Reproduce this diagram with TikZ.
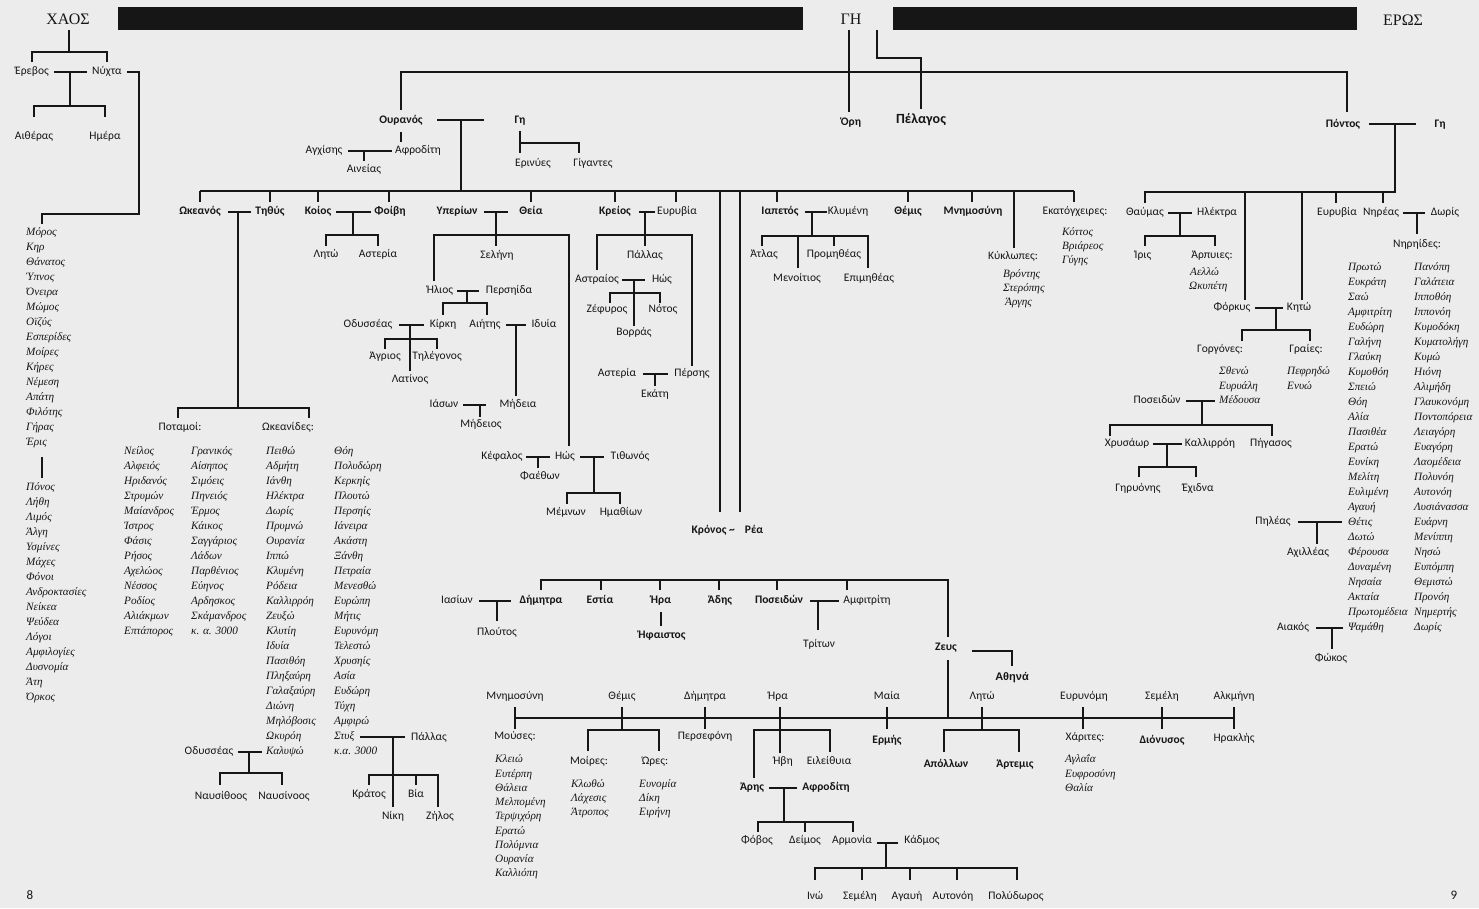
\documentclass[tikz,border=0pt]{standalone}
\usepackage{fontspec}
\setmainfont{Liberation Serif}
\setsansfont{Carlito}
\newfontfamily\arialfont{Liberation Sans}
\definecolor{bg}{RGB}{236,236,236}
\definecolor{ink}{RGB}{22,22,22}
\tikzset{
  nm/.style={font=\sffamily\fontsize{11.5}{13}\selectfont,inner sep=0pt,text height=7.5pt,text depth=2pt,text=ink},
  bd/.style={nm,font=\sffamily\bfseries\fontsize{11.5}{13}\selectfont},
  itl/.style={font=\itshape\fontsize{11.2}{13}\selectfont,inner sep=0pt,text height=7.5pt,text depth=2pt,text=ink,anchor=west},
  hd/.style={font=\fontsize{16}{18}\selectfont,inner sep=0pt,text=ink},
  ln/.style={line width=1.35pt,draw=ink},
  tk/.style={line width=2.4pt,draw=ink},
}
\begin{document}
\begin{tikzpicture}[x=1pt,y=-1pt]
\fill[bg] (0,0) rectangle (1479,908);
\useasboundingbox (0,0) rectangle (1479,908);

% ---------- header ----------
\node[hd] (chaos) at (68,19) {ΧΑΟΣ};
\fill[ink] (118,7) rectangle (803,30);
\node[hd] (ge) at (851,19) {ΓΗ};
\fill[ink] (893,7) rectangle (1357,30);
\node[hd] (eros) at (1403,20) {ΕΡΩΣ};

% ---------- Chaos ----------
\draw[ln] (69,30) -- (69,52);
\draw[ln] (32,62) -- (32,52) -- (107,52) -- (107,62);
\node[nm] (erebos) at (32,72) {Έρεβος};
\node[nm] (nyx) at (107,72) {Νύχτα};
\draw[ln] (54,72) -- (87,72);
\draw[ln] (70,72) -- (70,106);
\draw[ln] (34,117) -- (34,106) -- (105,106) -- (105,117);
\node[nm] (aither) at (34,137) {Αιθέρας};
\node[nm] (hemera) at (105,137) {Ημέρα};
\draw[ln] (127,72) -- (139,72) -- (139,214) -- (42,214) -- (42,224);
\foreach \t [count=\i from 0] in {Μόρος,Κηρ,Θάνατος,Ύπνος,Όνειρα,Μώμος,Οϊζύς,Εσπερίδες,Μοίρες,Κήρες,Νέμεση,Απάτη,Φιλότης,Γήρας,Έρις}
  \node[itl] (nya\i) at (26,{233+15*\i}) {\t};
\draw[tk] (42,457) -- (42,478);
\foreach \t [count=\i from 0] in {Πόνος,Λήθη,Λιμός,Άλγη,Υσμίνες,Μάχες,Φόνοι,Ανδροκτασίες,Νείκεα,Ψεύδεα,Λόγοι,Αμφιλογίες,Δυσνομία,Άτη,Όρκος}
  \node[itl] (nyb\i) at (26,{488+15*\i}) {\t};

% ---------- Ge ----------
\draw[ln] (849,30) -- (849,112);
\draw[ln] (401,110) -- (401,72) -- (1347,72) -- (1347,112);
\draw[ln] (877,30) -- (877,58) -- (921,58) -- (921,109);
\node[bd] (ore) at (851,123) {Όρη};
\node[bd,font=\sffamily\bfseries\fontsize{14}{16}\selectfont] (pelagos) at (921,121) {Πέλαγος};

% Ouranos
\node[bd] (ouranos) at (401,121) {Ουρανός};
\node[bd] (ge2) at (520,121) {Γη};
\draw[ln] (437,120) -- (484,120);
\draw[ln] (461,120) -- (461,191);
\draw[ln] (401,132) -- (401,142);
\node[nm] (aphr1) at (418,151) {Αφροδίτη};
\node[nm] (anch) at (324,151) {Αγχίσης};
\draw[ln] (348,151) -- (392,151);
\draw[ln] (364,151) -- (364,161);
\node[nm] (aineias) at (364,170) {Αινείας};
\draw[ln] (520,131) -- (520,153);
\draw[ln] (520,143) -- (579,143) -- (579,153);
\node[nm] (erinyes) at (533,164) {Ερινύες};
\node[nm] (gigantes) at (593,164) {Γίγαντες};

% Titans line
\draw[ln] (200,191) -- (1074,191);
\foreach \x in {200,270,318,389,531,615,676,777,908,972,1074}
  \draw[ln] (\x,191) -- (\x,202);
\draw[ln] (720,191) -- (720,512);
\draw[ln] (740,191) -- (740,512);
\draw[ln] (1014,191) -- (1014,248);

\node[bd] (okeanos) at (200,212) {Ωκεανός};
\node[bd] (tethys) at (270,212) {Τηθύς};
\node[bd] (koios) at (318,212) {Κοίος};
\node[bd] (phoibe) at (390,212) {Φοίβη};
\node[bd] (hyperion) at (457,212) {Υπερίων};
\node[bd] (theia) at (531,212) {Θεία};
\node[bd] (kreios) at (615,212) {Κρείος};
\node[nm] (eurybia) at (677,212) {Ευρυβία};
\node[bd] (iapetos) at (780,212) {Ιαπετός};
\node[nm] (klymene) at (848,212) {Κλυμένη};
\node[bd] (themis) at (908,212) {Θέμις};
\node[bd] (mnemos) at (973,212) {Μνημοσύνη};
\node[nm] (hekat) at (1075,212) {Εκατόγχειρες:};

% Okeanos - Tethys
\draw[ln] (228,212) -- (251,212);
\draw[ln] (238,212) -- (238,408);
\draw[ln] (178,418) -- (178,408) -- (309,408) -- (309,418);
\node[nm] (potamoi) at (180,428) {Ποταμοί:};
\node[nm] (okeanides) at (288,428) {Ωκεανίδες:};
\foreach \t [count=\i from 0] in {Νείλος,Αλφειός,Ηριδανός,Στρυμών,Μαίανδρος,Ίστρος,Φάσις,Ρήσος,Αχελώος,Νέσσος,Ροδίος,Αλιάκμων,Επτάπορος}
  \node[itl] (pa\i) at (124,{452+15*\i}) {\t};
\foreach \t [count=\i from 0] in {Γρανικός,Αίσηπος,Σιμόεις,Πηνειός,Έρμος,Κάικος,Σαγγάριος,Λάδων,Παρθένιος,Εύηνος,Αρδησκος,Σκάμανδρος,κ. α. 3000}
  \node[itl] (pb\i) at (191,{452+15*\i}) {\t};
\foreach \t [count=\i from 0] in {Πειθώ,Αδμήτη,Ιάνθη,Ηλέκτρα,Δωρίς,Πρυμνώ,Ουρανία,Ιππώ,Κλυμένη,Ρόδεια,Καλλιρρόη,Ζευξώ,Κλυτίη,Ιδυία,Πασιθόη,Πληξαύρη,Γαλαξαύρη,Διώνη,Μηλόβοσις,Ωκυρόη,Καλυψώ}
  \node[itl] (oa\i) at (266,{452+15*\i}) {\t};
\foreach \t [count=\i from 0] in {Θόη,Πολυδώρη,Κερκηίς,Πλουτώ,Περσηίς,Ιάνειρα,Ακάστη,Ξάνθη,Πετραία,Μενεσθώ,Ευρώπη,Μήτις,Ευρυνόμη,Τελεστώ,Χρυσηίς,Ασία,Ευδώρη,Τύχη,Αμφιρώ,Στυξ,κ.α. 3000}
  \node[itl] (ob\i) at (334,{452+15*\i}) {\t};

% Styx - Pallas
\draw[ln] (360,737) -- (405,737);
\node[nm] (pallas2) at (429,738) {Πάλλας};
\draw[ln] (393,737) -- (393,807);
\draw[ln] (369,785) -- (369,775) -- (438,775) -- (438,807);
\draw[ln] (416,775) -- (416,785);
\node[nm] (kratos) at (369,795) {Κράτος};
\node[nm] (bia) at (416,795) {Βία};
\node[nm] (nike) at (393,817) {Νίκη};
\node[nm] (zelos) at (440,817) {Ζήλος};

% Odysseus - Kalypso
\node[nm] (odyss2) at (209,752) {Οδυσσέας};
\draw[ln] (238,752) -- (262,752);
\draw[ln] (249,752) -- (249,773);
\draw[ln] (220,785) -- (220,773) -- (282,773) -- (282,785);
\node[nm] (nausith) at (221,797) {Ναυσίθοος};
\node[nm] (nausin) at (284,797) {Ναυσίνοος};

% Koios - Phoibe
\draw[ln] (336,212) -- (371,212);
\draw[ln] (353,212) -- (353,235);
\draw[ln] (326,246) -- (326,235) -- (378,235) -- (378,246);
\node[nm] (leto1) at (326,255) {Λητώ};
\node[nm] (asteria1) at (378,255) {Αστερία};

% Hyperion - Theia
\draw[ln] (484,212) -- (508,212);
\draw[ln] (496,212) -- (496,246);
\draw[ln] (434,281) -- (434,235) -- (569,235) -- (569,446);
\node[nm] (selene) at (497,256) {Σελήνη};
\node[nm] (helios) at (440,291) {Ήλιος};
\node[nm] (perseis) at (509,291) {Περσηίδα};
\draw[ln] (457,291) -- (479,291);
\draw[ln] (467,291) -- (467,303);
\draw[ln] (443,315) -- (443,303) -- (487,303) -- (487,315);
\node[nm] (kirke) at (443,325) {Κίρκη};
\node[nm] (aietes) at (485,325) {Αιήτης};
\node[nm] (odyss1) at (368,325) {Οδυσσέας};
\draw[ln] (399,325) -- (424,325);
\draw[ln] (410,325) -- (410,371);
\draw[ln] (385,349) -- (385,339) -- (437,339) -- (437,349);
\node[nm] (agrios) at (385,357) {Άγριος};
\node[nm] (telegonos) at (437,357) {Τηλέγονος};
\node[nm] (latinos) at (410,380) {Λατίνος};
\draw[ln] (506,325) -- (526,325);
\draw[ln] (516,325) -- (516,396);
\node[nm] (idyia) at (544,325) {Ιδυία};
\node[nm] (medeia) at (518,405) {Μήδεια};
\node[nm] (iason) at (444,405) {Ιάσων};
\draw[ln] (463,405) -- (486,405);
\draw[ln] (480,405) -- (480,417);
\node[nm] (medeios) at (481,425) {Μήδειος};
\node[nm] (kephalos) at (502,457) {Κέφαλος};
\node[nm] (eos1) at (565,457) {Ηώς};
\node[nm] (tithonos) at (630,457) {Τιθωνός};
\draw[ln] (526,457) -- (550,457);
\draw[tk] (538,457) -- (538,468);
\node[nm] (phaethon) at (540,477) {Φαέθων};
\draw[ln] (580,457) -- (604,457);
\draw[ln] (594,457) -- (594,493);
\draw[ln] (567,504) -- (567,493) -- (620,493) -- (620,504);
\node[nm] (memnon) at (566,513) {Μέμνων};
\node[nm] (hemathion) at (621,513) {Ημαθίων};

% Kreios - Eurybia
\draw[ln] (639,212) -- (655,212);
\draw[ln] (645,212) -- (645,246);
\draw[ln] (597,270) -- (597,235) -- (692,235) -- (692,366);
\node[nm] (pallas1) at (645,256) {Πάλλας};
\node[nm] (astraios) at (597,280) {Αστραίος};
\node[nm] (eos2) at (662,280) {Ηώς};
\draw[ln] (622,280) -- (645,280);
\draw[ln] (634,280) -- (634,326);
\draw[ln] (610,303) -- (610,293) -- (660,293) -- (660,303);
\node[nm] (zephyros) at (607,310) {Ζέφυρος};
\node[nm] (notos) at (663,310) {Νότος};
\node[nm] (borras) at (634,333) {Βορράς};
\node[nm] (asteria2) at (617,374) {Αστερία};
\node[nm] (perses) at (692,374) {Πέρσης};
\draw[ln] (643,374) -- (668,374);
\draw[tk] (655,374) -- (655,386);
\node[nm] (hekate) at (655,395) {Εκάτη};

% Kronos - Rhea
\node[bd,anchor=east] (kronos) at (735,531) {Κρόνος \textasciitilde};
\node[bd] (rhea) at (754,531) {Ρέα};

% Iapetos
\draw[ln] (805,212) -- (827,212);
\draw[ln] (812,212) -- (812,236);
\draw[ln] (762,246) -- (762,236) -- (868,236) -- (868,268);
\draw[ln] (798,236) -- (798,268);
\draw[ln] (834,236) -- (834,246);
\node[nm] (atlas) at (764,255) {Άτλας};
\node[nm] (prometheus) at (834,255) {Προμηθέας};
\node[nm] (menoitios) at (797,279) {Μενοίτιος};
\node[nm] (epimetheus) at (869,279) {Επιμηθέας};

% Kyklopes, Hekatoncheires
\node[nm] (kyklopes) at (1013,257) {Κύκλωπες:};
\node[itl] (brontes) at (1003,275) {Βρόντης};
\node[itl] (steropes) at (1003,289) {Στερόπης};
\node[itl] (arges) at (1005,303) {Άργης};
\node[itl] (kottos) at (1062,233) {Κόττος};
\node[itl] (briareos) at (1062,247) {Βριάρεος};
\node[itl] (gyges) at (1062,261) {Γύγης};

% ---------- Pontos ----------
\node[bd] (pontos) at (1343,125) {Πόντος};
\node[bd] (ge3) at (1440,125) {Γη};
\draw[ln] (1369,124) -- (1416,124);
\draw[ln] (1395,124) -- (1395,192) -- (1145,192) -- (1145,203);
\foreach \x in {1336,1383} \draw[ln] (\x,192) -- (\x,203);
\draw[ln] (1245,192) -- (1245,300);
\draw[ln] (1302,192) -- (1302,300);
\node[nm] (thaumas) at (1145,213) {Θαύμας};
\node[nm] (elektra) at (1217,213) {Ηλέκτρα};
\draw[ln] (1168,213) -- (1192,213);
\draw[ln] (1180,213) -- (1180,236);
\draw[ln] (1145,246) -- (1145,236) -- (1215,236) -- (1215,246);
\node[nm] (iris) at (1143,256) {Ίρις};
\node[nm] (harpyiai) at (1212,256) {Άρπυιες:};
\node[itl] (aello) at (1190,273) {Αελλώ};
\node[itl] (okypete) at (1189,287) {Ωκυπέτη};
\node[nm] (eurybia2) at (1337,213) {Ευρυβία};
\node[nm] (nereus) at (1381,213) {Νηρέας};
\node[nm] (doris) at (1445,213) {Δωρίς};
\draw[ln] (1403,213) -- (1425,213);
\draw[ln] (1417,213) -- (1417,234);
\node[nm] (nereides) at (1417,245) {Νηρηίδες:};
\foreach \t [count=\i from 0] in {Πρωτώ,Ευκράτη,Σαώ,Αμφιτρίτη,Ευδώρη,Γαλήνη,Γλαύκη,Κυμοθόη,Σπειώ,Θόη,Αλία,Πασιθέα,Ερατώ,Ευνίκη,Μελίτη,Ευλιμένη,Αγαυή,Θέτις,Δωτώ,Φέρουσα,Δυναμένη,Νησαία,Ακταία,Πρωτομέδεια,Ψαμάθη}
  \node[itl] (na\i) at (1348,{268+15*\i}) {\t};
\foreach \t [count=\i from 0] in {Πανόπη,Γαλάτεια,Ιπποθόη,Ιππονόη,Κυμοδόκη,Κυματολήγη,Κυμώ,Ηιόνη,Αλιμήδη,Γλαυκονόμη,Ποντοπόρεια,Λειαγόρη,Ευαγόρη,Λαομέδεια,Πολυνόη,Αυτονόη,Λυσιάνασσα,Ευάρνη,Μενίππη,Νησώ,Ευπόμπη,Θεμιστώ,Προνόη,Νημερτής,Δωρίς}
  \node[itl] (nb\i) at (1414,{268+15*\i}) {\t};

% Phorkys - Keto
\node[nm] (phorkys) at (1232,308) {Φόρκυς};
\node[nm] (keto) at (1299,308) {Κητώ};
\draw[ln] (1255,308) -- (1283,308);
\draw[tk] (1276,308) -- (1276,330);
\draw[ln] (1242,341) -- (1242,330) -- (1310,330) -- (1310,341);
\node[nm] (gorgones) at (1220,350) {Γοργόνες:};
\node[nm] (graiai) at (1306,350) {Γραίες:};
\node[itl] (sthenno) at (1219,372) {Σθενώ};
\node[itl] (euryale) at (1219,387) {Ευρυάλη};
\node[itl] (medousa) at (1219,401) {Μέδουσα};
\node[itl] (pemphredo) at (1287,372) {Πεφρηδώ};
\node[itl] (enyo) at (1287,387) {Ενυώ};
\node[nm] (poseidon2) at (1157,401) {Ποσειδών};
\draw[ln] (1186,401) -- (1215,401);
\draw[tk] (1202,401) -- (1202,425);
\draw[ln] (1110,436) -- (1110,425) -- (1272,425) -- (1272,436);
\node[nm] (chrysaor) at (1127,444) {Χρυσάωρ};
\node[nm] (kallirrhoe) at (1210,444) {Καλλιρρόη};
\node[nm] (pegasos) at (1271,444) {Πήγασος};
\draw[ln] (1153,444) -- (1182,444);
\draw[ln] (1167,444) -- (1167,467);
\draw[ln] (1139,477) -- (1139,467) -- (1196,467) -- (1196,477);
\node[nm] (geryones) at (1138,489) {Γηρυόνης};
\node[nm] (echidna) at (1198,489) {Έχιδνα};

% Peleus, Aiakos
\node[nm] (peleus) at (1273,522) {Πηλέας};
\draw[ln] (1298,522) -- (1342,522);
\draw[tk] (1317,522) -- (1317,544);
\node[nm] (achilleus) at (1308,553) {Αχιλλέας};
\node[nm] (aiakos) at (1293,628) {Αιακός};
\draw[ln] (1316,628) -- (1343,628);
\draw[tk] (1332,628) -- (1332,649);
\node[nm] (phokos) at (1331,659) {Φώκος};

% ---------- children of Kronos ----------
\draw[ln] (541,590) -- (541,580) -- (948,580) -- (948,637);
\foreach \x in {601,660,719,777,847} \draw[ln] (\x,580) -- (\x,590);
\node[nm] (iasion) at (457,601) {Ιασίων};
\node[bd] (demeter) at (541,601) {Δήμητρα};
\node[bd] (hestia) at (600,601) {Εστία};
\node[bd] (hera) at (661,601) {Ήρα};
\node[bd] (hades) at (720,601) {Άδης};
\node[bd] (poseidon) at (779,601) {Ποσειδών};
\node[nm] (amphitrite) at (867,601) {Αμφιτρίτη};
\draw[ln] (479,601) -- (511,601);
\draw[ln] (497,601) -- (497,621);
\node[nm] (ploutos) at (497,633) {Πλούτος};
\draw[ln] (661,612) -- (661,626);
\node[bd] (hephaistos) at (662,636) {Ήφαιστος};
\draw[ln] (810,601) -- (839,601);
\draw[ln] (818,601) -- (818,630);
\node[nm] (triton) at (819,645) {Τρίτων};
\node[bd] (zeus) at (946,648) {Ζευς};
\draw[ln] (972,651) -- (1012,651) -- (1012,666);
\node[bd,font=\arialfont\bfseries\fontsize{11}{13}\selectfont] (athena) at (1012,678) {Αθηνά};
\draw[ln] (948,660) -- (948,718);

% ---------- wives of Zeus ----------
\draw[ln] (515,718) -- (1234,718);
\foreach \x in {515,622,705,780,887,982,1083,1162} \draw[ln] (\x,707) -- (\x,729);
\draw[tk] (1234,707) -- (1234,729);
\node[nm] (mnem2) at (515,697) {Μνημοσύνη};
\node[nm] (themis2) at (622,697) {Θέμις};
\node[nm] (demeter2) at (705,697) {Δήμητρα};
\node[nm] (hera2) at (778,697) {Ήρα};
\node[nm] (maia) at (887,697) {Μαία};
\node[nm] (leto2) at (982,697) {Λητώ};
\node[nm] (eurynome) at (1084,697) {Ευρυνόμη};
\node[nm] (semele1) at (1162,697) {Σεμέλη};
\node[nm] (alkmene) at (1234,697) {Αλκμήνη};

\node[nm] (mousai) at (515,737) {Μούσες:};
\foreach \t [count=\i from 0] in {Κλειώ,Ευτέρπη,Θάλεια,Μελπομένη,Τερψιχόρη,Ερατώ,Πολύμνια,Ουρανία,Καλλιόπη}
  \node[itl] (mu\i) at (495,{760+14.25*\i}) {\t};
\draw[ln] (588,751) -- (588,730) -- (659,730) -- (659,751);
\node[nm] (moirai) at (589,762) {Μοίρες:};
\node[nm] (horai) at (655,762) {Ώρες:};
\foreach \t [count=\i from 0] in {Κλωθώ,Λάχεσις,Άτροπος}
  \node[itl] (mo\i) at (571,{785+14*\i}) {\t};
\foreach \t [count=\i from 0] in {Ευνομία,Δίκη,Ειρήνη}
  \node[itl] (ho\i) at (639,{785+14*\i}) {\t};
\node[nm] (persephone) at (705,737) {Περσεφόνη};

\draw[ln] (780,729) -- (780,753);
\draw[ln] (754,778) -- (754,730) -- (830,730) -- (830,752);
\node[nm] (hebe) at (783,762) {Ήβη};
\node[nm] (eileithyia) at (829,762) {Ειλείθυια};
\node[bd] (ares) at (752,788) {Άρης};
\node[bd] (aphr2) at (826,788) {Αφροδίτη};
\draw[ln] (769,788) -- (797,788);
\draw[ln] (784,788) -- (784,822);
\draw[ln] (758,832) -- (758,822) -- (853,822) -- (853,832);
\draw[ln] (805,822) -- (805,832);
\node[nm] (phobos) at (757,841) {Φόβος};
\node[nm] (deimos) at (805,841) {Δείμος};
\node[nm] (harmonia) at (852,841) {Αρμονία};
\node[nm] (kadmos) at (922,841) {Κάδμος};
\draw[ln] (877,843) -- (898,843);
\draw[ln] (886,843) -- (886,868);
\draw[ln] (815,880) -- (815,868) -- (1017,868) -- (1017,880);
\foreach \x in {862,910,957} \draw[ln] (\x,868) -- (\x,880);
\node[nm] (ino) at (815,897) {Ινώ};
\node[nm] (semele2) at (860,897) {Σεμέλη};
\node[nm] (agaue) at (907,897) {Αγαυή};
\node[nm] (autonoe) at (953,897) {Αυτονόη};
\node[nm] (polydoros) at (1016,897) {Πολύδωρος};

\node[bd] (hermes) at (887,741) {Ερμής};
\draw[ln] (944,752) -- (944,730) -- (1019,730) -- (1019,752);
\node[bd] (apollon) at (946,765) {Απόλλων};
\node[bd] (artemis) at (1015,765) {Άρτεμις};
\node[nm] (charites) at (1085,738) {Χάριτες:};
\node[itl] (aglaia) at (1065,760) {Αγλαΐα};
\node[itl] (euphrosyne) at (1065,775) {Ευφροσύνη};
\node[itl] (thaleia) at (1065,789) {Θαλία};
\node[bd] (dionysos) at (1162,741) {Διόνυσος};
\node[nm] (herakles) at (1234,739) {Ηρακλής};

% page numbers
\node[nm,font=\sffamily\fontsize{13}{15}\selectfont] (p8) at (30,897) {8};
\node[nm,font=\sffamily\fontsize{13}{15}\selectfont] (p9) at (1454,897) {9};
\end{tikzpicture}
\end{document}
